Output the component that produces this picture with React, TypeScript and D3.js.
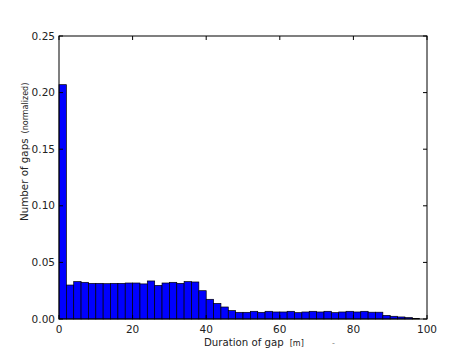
import React, { useEffect, useRef } from 'react'
import * as d3 from 'd3'

// histogram bins, each 2 units wide starting at 0
const binStarts = d3.range(0, 98, 2)
const binValues = [
  0.207, 0.030, 0.033, 0.0324, 0.0315, 0.0315, 0.0312, 0.0315, 0.0315, 0.0318,
  0.0318, 0.031, 0.0336, 0.0297, 0.0318, 0.0324, 0.0315, 0.033, 0.0327, 0.025,
  0.0174, 0.0138, 0.0106, 0.0074, 0.0059, 0.0059, 0.0068, 0.0059, 0.0068, 0.0062,
  0.0062, 0.0068, 0.0056, 0.0062, 0.0068, 0.0062, 0.0068, 0.0056, 0.0062, 0.0068,
  0.0062, 0.0068, 0.006, 0.006, 0.0032, 0.0024, 0.0018, 0.0012, 0.0004
]
const xTicks = [0, 20, 40, 60, 80, 100]
const yTicks = [0, 0.05, 0.1, 0.15, 0.2, 0.25]

export default function App() {
  const ref = useRef<SVGSVGElement>(null)

  useEffect(() => {
    const svg = d3.select(ref.current)
    svg.selectAll('*').remove()
    const left = 59, right = 427, top = 36, bottom = 319
    const x = d3.scaleLinear().domain([0, 100]).range([left, right])
    const y = d3.scaleLinear().domain([0, 0.25]).range([bottom, top])

    svg.append('rect').attr('width', 474).attr('height', 355).attr('fill', '#fff')

    svg.append('g')
      .selectAll('rect')
      .data(binStarts)
      .join('rect')
      .attr('x', d => x(d))
      .attr('width', d => x(d + 2) - x(d))
      .attr('y', (d, i) => y(binValues[i]))
      .attr('height', (d, i) => y(0) - y(binValues[i]))
      .attr('fill', '#0000ff')
      .attr('stroke', '#000')
      .attr('stroke-width', 0.7)

    // frame
    svg.append('rect')
      .attr('x', left).attr('y', top)
      .attr('width', right - left).attr('height', bottom - top)
      .attr('fill', 'none').attr('stroke', '#000').attr('stroke-width', 1)

    const font = 'DejaVu Sans, sans-serif'
    const tl = 4
    // x ticks, inward on bottom and top
    xTicks.forEach(t => {
      svg.append('line').attr('x1', x(t)).attr('x2', x(t)).attr('y1', bottom).attr('y2', bottom - tl).attr('stroke', '#000')
      svg.append('line').attr('x1', x(t)).attr('x2', x(t)).attr('y1', top).attr('y2', top + tl).attr('stroke', '#000')
      svg.append('text').attr('x', x(t)).attr('y', bottom + 14)
        .attr('text-anchor', 'middle').attr('font-family', font).attr('font-size', 10.5).attr('fill', '#222')
        .text(d3.format('d')(t))
    })
    yTicks.forEach(t => {
      svg.append('line').attr('x1', left).attr('x2', left + tl).attr('y1', y(t)).attr('y2', y(t)).attr('stroke', '#000')
      svg.append('line').attr('x1', right).attr('x2', right - tl).attr('y1', y(t)).attr('y2', y(t)).attr('stroke', '#000')
      svg.append('text').attr('x', left - 4).attr('y', y(t) + 3.5)
        .attr('text-anchor', 'end').attr('font-family', font).attr('font-size', 10.5).attr('fill', '#222')
        .text(d3.format('.2f')(t))
    })

    // axis labels
    const xl = svg.append('text').attr('x', 204).attr('y', 346)
      .attr('font-family', font).attr('font-size', 10.2).attr('fill', '#222')
    xl.append('tspan').text('Duration of gap')
    xl.append('tspan').attr('dx', 6).attr('font-size', 8).text('[m]')
    svg.append('text').attr('x', 332).attr('y', 346).attr('font-family', font)
      .attr('font-size', 8).attr('fill', '#888').text('-')

    const yl = svg.append('text').attr('transform', 'translate(28,221) rotate(-90)')
      .attr('font-family', font).attr('font-size', 10.3).attr('fill', '#222')
    yl.append('tspan').text('Number of gaps')
    yl.append('tspan').attr('dx', 5).attr('font-size', 8).text('(normalized)')
  }, [])

  return <svg ref={ref} width={474} height={355} style={{ position: 'absolute', left: 0, top: 0 }} />
}
